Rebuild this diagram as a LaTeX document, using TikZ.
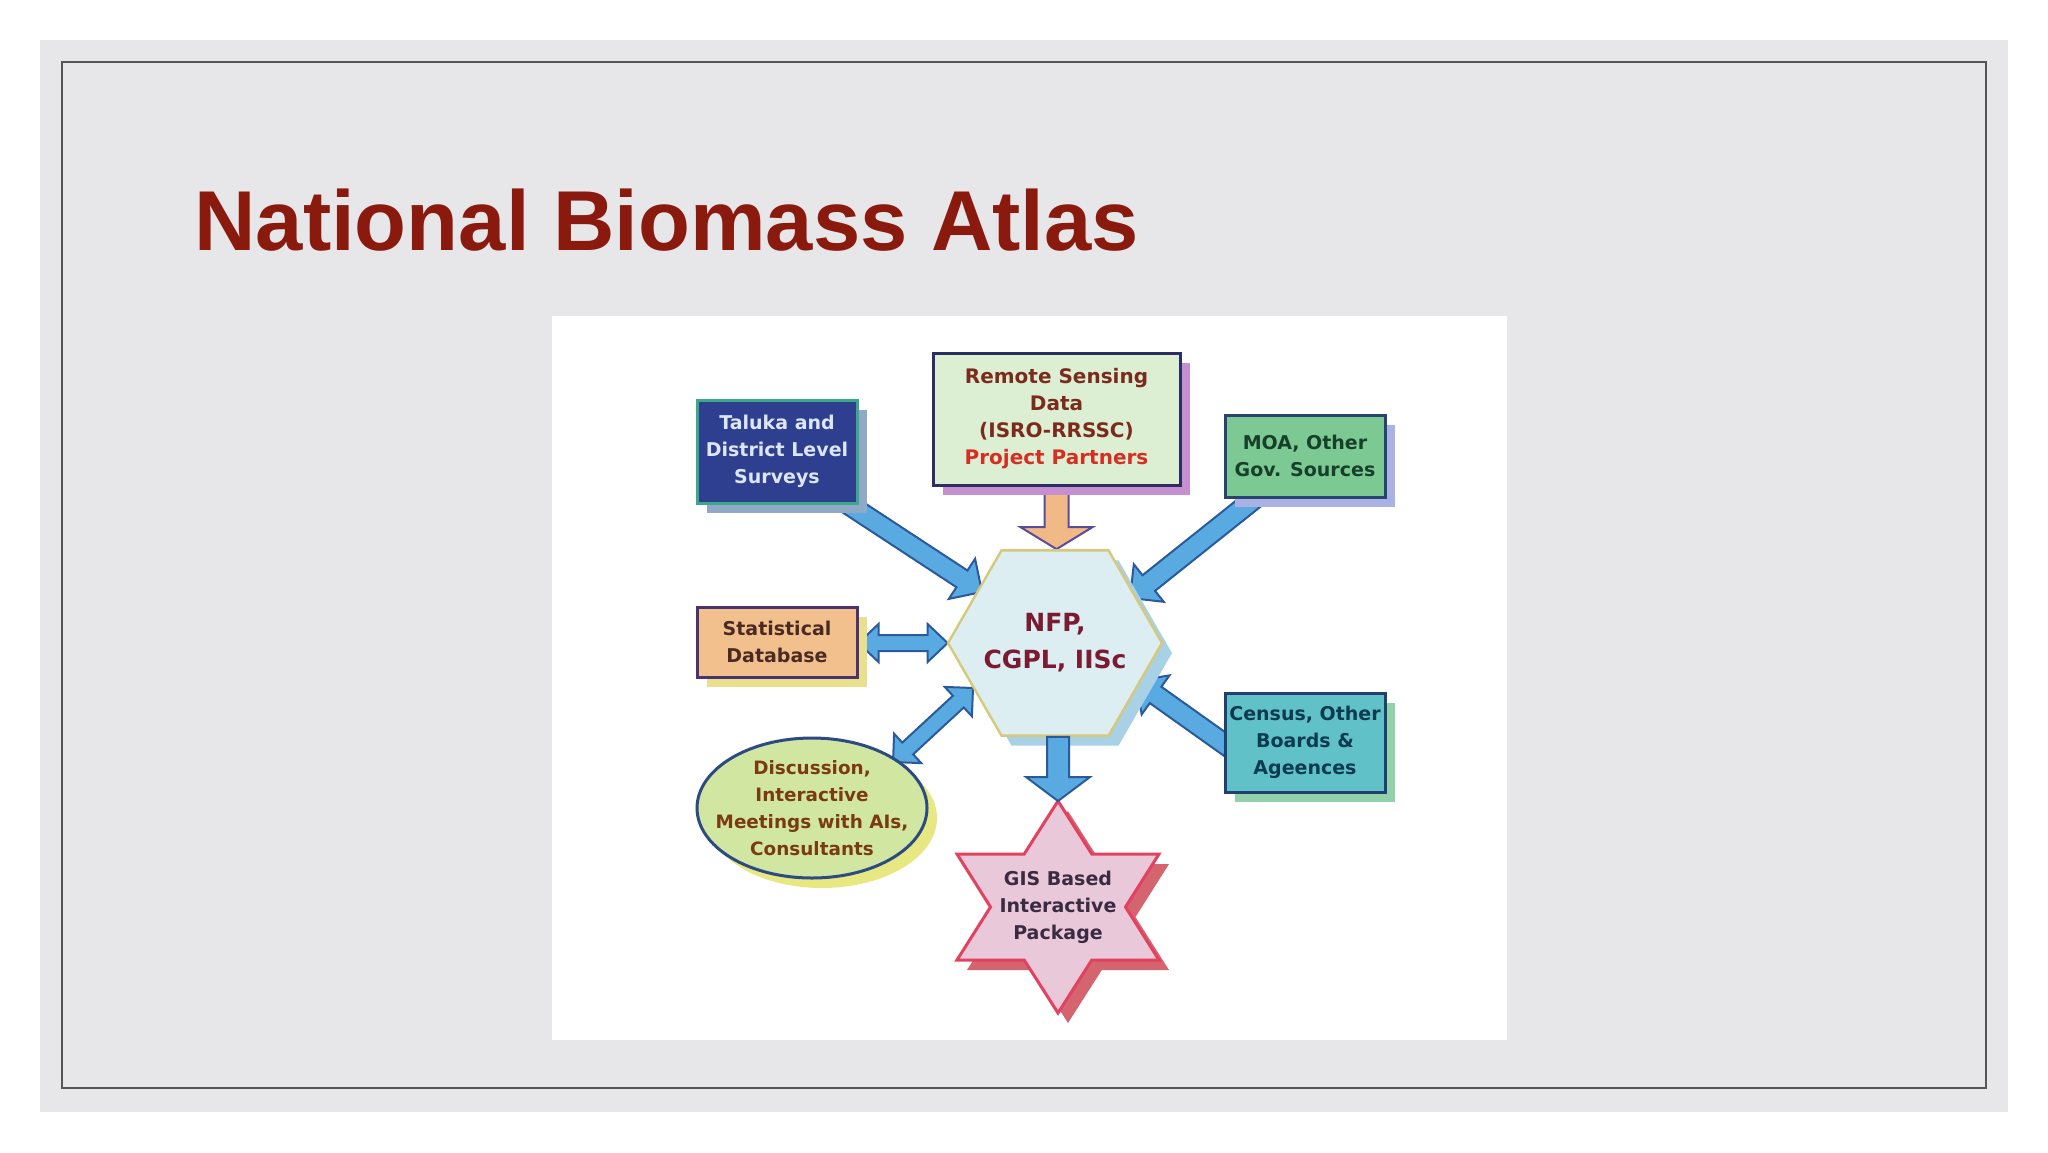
\documentclass[tikz,border=0pt]{standalone}
\usepackage{fontspec}
\setmainfont{DejaVu Sans}
\newfontfamily\titlefont{Liberation Sans}
\usetikzlibrary{calc,shapes.geometric,shadows}
\definecolor{slidebg}{HTML}{E7E6E8}
\definecolor{slideborder}{HTML}{555555}
\definecolor{titlered}{HTML}{8B1A0E}
\definecolor{talfill}{HTML}{2D3F8E}
\definecolor{talborder}{HTML}{3BA88C}
\definecolor{talshadow}{HTML}{8FA9C6}
\definecolor{taltext}{HTML}{DCE6F6}
\definecolor{remfill}{HTML}{DCEFD3}
\definecolor{remborder}{HTML}{2B2F62}
\definecolor{remshadow}{HTML}{C58FD0}
\definecolor{remtext}{HTML}{7B2B1E}
\definecolor{remred}{HTML}{D62E22}
\definecolor{moafill}{HTML}{7DC993}
\definecolor{moaborder}{HTML}{2A4272}
\definecolor{moashadow}{HTML}{A9B2E2}
\definecolor{moatext}{HTML}{164029}
\definecolor{statfill}{HTML}{F1C08C}
\definecolor{statborder}{HTML}{4B3272}
\definecolor{statshadow}{HTML}{E9E08E}
\definecolor{stattext}{HTML}{4A2A22}
\definecolor{hexfill}{HTML}{DDEEF2}
\definecolor{hexborder}{HTML}{D7C87A}
\definecolor{hexshadow}{HTML}{A9D1E6}
\definecolor{hextext}{HTML}{7A1B32}
\definecolor{cenfill}{HTML}{60C1C9}
\definecolor{cenborder}{HTML}{22406F}
\definecolor{censhadow}{HTML}{92D2AA}
\definecolor{centext}{HTML}{0A3B4F}
\definecolor{ellfill}{HTML}{D1E7A1}
\definecolor{ellborder}{HTML}{2B4B82}
\definecolor{ellshadow}{HTML}{E8E882}
\definecolor{elltext}{HTML}{7A3B12}
\definecolor{starfill}{HTML}{E9C9D9}
\definecolor{starborder}{HTML}{E2425F}
\definecolor{starshadow}{HTML}{D4656F}
\definecolor{startext}{HTML}{3B2B42}
\definecolor{arrfill}{HTML}{5AAAE2}
\definecolor{arrdraw}{HTML}{2A5A9C}
\definecolor{orfill}{HTML}{F1B985}
\definecolor{ordraw}{HTML}{5C4B9C}
\newcommand{\boxfont}{\bfseries\fontsize{9.5}{13.5}\selectfont}
% fat single arrow: style, start, end, shaft half width, head half width, head length
\newcommand{\fatarrow}[6]{%
  \coordinate (fah) at ($(#3)!#6!(#2)$);
  \filldraw[#1] ($(#2)!#4!90:(#3)$) -- ($(fah)!#4!-90:(#2)$) -- ($(fah)!#5!-90:(#2)$) -- (#3)
    -- ($(fah)!#5!90:(#2)$) -- ($(fah)!#4!90:(#2)$) -- ($(#2)!#4!-90:(#3)$) -- cycle;
}
% fat double arrow
\newcommand{\fatdarrow}[6]{%
  \coordinate (fah) at ($(#3)!#6!(#2)$);
  \coordinate (fat) at ($(#2)!#6!(#3)$);
  \filldraw[#1] (#2) -- ($(fat)!#5!90:(#3)$) -- ($(fat)!#4!90:(#3)$) -- ($(fah)!#4!-90:(#2)$)
    -- ($(fah)!#5!-90:(#2)$) -- (#3) -- ($(fah)!#5!90:(#2)$) -- ($(fah)!#4!90:(#2)$)
    -- ($(fat)!#4!-90:(#3)$) -- ($(fat)!#5!-90:(#3)$) -- cycle;
}
\pgfdeclarelayer{bg}
\pgfdeclarelayer{arrows}
\pgfsetlayers{bg,arrows,main}
\begin{document}
\begin{tikzpicture}[x=0.5pt,y=-0.5pt,
  box/.style={rectangle, inner sep=0pt, line width=1.5pt, align=center, font=\boxfont},
  shad/.style={general shadow={shadow xshift=5pt, shadow yshift=-5pt, fill=#1}},
  bluearrow/.style={fill=arrfill, draw=arrdraw, line width=1pt, line join=miter},
  orangearrow/.style={fill=orfill, draw=ordraw, line width=1pt, line join=miter}]
\useasboundingbox (0,0) rectangle (2048,1152);
\begin{pgfonlayer}{bg}
\fill[white] (0,0) rectangle (2048,1152);
\fill[slidebg] (40,40) rectangle (2008,1112);
\draw[slideborder, line width=1pt] (62,62) rectangle (1986,1088);
\fill[white] (552,316) rectangle (1507,1040);
\end{pgfonlayer}

\node[anchor=base west, inner sep=0pt, text=titlered,
  font=\titlefont\bfseries\fontsize{42.5}{50}\selectfont] (title) at (194,250) {National Biomass Atlas};

\node[box, minimum width=80pt, minimum height=51.5pt, fill=talfill, draw=talborder,
  text=taltext, shad=talshadow] (taluka) at (777,451.5) {Taluka and\\District Level\\Surveys};
\node[box, minimum width=123.5pt, minimum height=66pt, fill=remfill, draw=remborder,
  text=remtext, shad=remshadow, font=\bfseries\fontsize{10}{13.5}\selectfont] (remote) at (1056.5,419) {Remote Sensing\\Data\\(ISRO-RRSSC)\\{\color{remred}Project Partners}};
\node[box, minimum width=80pt, minimum height=41pt, fill=moafill, draw=moaborder,
  text=moatext, shad=moashadow] (moa) at (1305,456) {MOA, Other\\Gov. Sources};
\node[box, minimum width=80pt, minimum height=35pt, fill=statfill, draw=statborder,
  text=stattext, shad=statshadow] (stat) at (777,642) {Statistical\\Database};
\node[box, minimum width=80pt, minimum height=49.5pt, fill=cenfill, draw=cenborder,
  text=centext, shad=censhadow] (census) at (1305,742.5) {Census, Other\\Boards \&\\Ageences};
\node[regular polygon, regular polygon sides=6, minimum size=107pt, inner sep=0pt,
  fill=hexfill, draw=hexborder, line width=1.2pt, shad=hexshadow,
  label={[text=hextext, align=center, font=\bfseries\fontsize{12.5}{18.5}\selectfont]center:NFP,\\CGPL, IISc}] (hex) at (1055,643) {};
\node[ellipse, minimum width=115pt, minimum height=70pt, inner sep=0pt,
  fill=ellfill, draw=ellborder, line width=1.5pt, shad=ellshadow,
  label={[text=elltext, align=center, font=\bfseries\fontsize{9.2}{13.5}\selectfont]center:Discussion,\\Interactive\\Meetings with AIs,\\Consultants}] (disc) at (812,808) {};

% six-pointed star, slightly wider than regular
\def\gispath{(1058,801) -- (1091.8,854) -- (1159,854) -- (1125.5,907) -- (1159,960) -- (1091.8,960)
  -- (1058,1013) -- (1024.2,960) -- (957,960) -- (990.5,907) -- (957,854) -- (1024.2,854) -- cycle}
\fill[starshadow, shift={(10,10)}] \gispath;
\filldraw[fill=starfill, draw=starborder, line width=1.5pt, line join=miter] \gispath;
\node[text=startext, align=center, font=\boxfont, inner sep=0pt] (gis) at (1058,907) {GIS Based\\Interactive\\Package};
\coordinate (gistop) at (1058,801);

\coordinate (talS) at ($(taluka.south east)+(-19,-6)$);
\coordinate (talE) at ($(hex.center)+(-73,-51)$);
\coordinate (moaS) at ($(moa.south west)+(40,-7)$);
\coordinate (moaE) at ($(hex.center)+(75,-45)$);
\coordinate (cenS) at ($(census.west)+(6,5)$);
\coordinate (cenE) at ($(hex.center)+(81,38)$);
\coordinate (statS) at ($(stat.east)+(0,1)$);
\coordinate (statE) at ($(hex.west)+(1,0)$);
\coordinate (discS) at ($(disc.center)+(81,-46)$);
\coordinate (discE) at ($(hex.center)+(-82,45)$);
\coordinate (remS) at (remote.south);
\coordinate (remE) at (remote.south |- hex.north);
\coordinate (gisS) at (gistop |- hex.south);

\begin{pgfonlayer}{arrows}
\fatarrow{bluearrow}{talS}{talE}{5pt}{12pt}{12pt}
\fatarrow{bluearrow}{moaS}{moaE}{5pt}{12pt}{12pt}
\fatarrow{bluearrow}{cenS}{cenE}{5pt}{12pt}{12pt}
\fatdarrow{bluearrow}{statS}{statE}{4pt}{9.5pt}{10pt}
\fatdarrow{bluearrow}{discS}{discE}{4pt}{10pt}{10pt}
\fatarrow{orangearrow}{remS}{remE}{6pt}{18pt}{11pt}
\end{pgfonlayer}
\fatarrow{bluearrow}{gisS}{gistop}{5.5pt}{16pt}{12pt}
\end{tikzpicture}
\end{document}
